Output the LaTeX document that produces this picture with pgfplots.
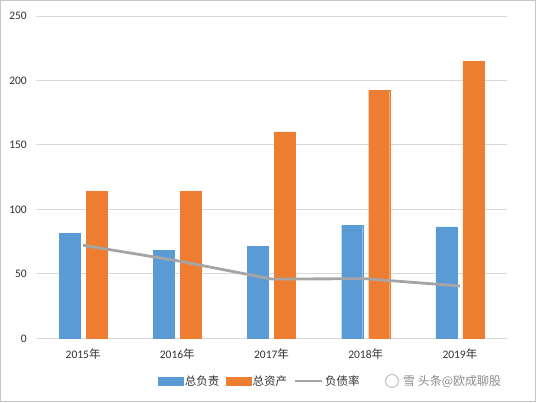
\documentclass[border=0pt]{standalone}
\usepackage{fontspec}
\setmainfont{Carlito}
\newfontfamily\cjk{Noto Sans CJK SC}
\usepackage{pgfplots}
\pgfplotsset{compat=1.18}
\definecolor{cblue}{HTML}{5B9BD5}
\definecolor{corange}{HTML}{ED7D31}
\definecolor{cgray}{HTML}{A5A5A5}
\definecolor{cgrid}{HTML}{D9D9D9}
\definecolor{ctext}{HTML}{303030}
\begin{document}
\begin{tikzpicture}[x=1bp,y=1bp]
\path[use as bounding box] (0,0) rectangle (536,402);
\draw[color=black!22, line width=1.3bp] (0.7,0.7) rectangle (535.3,401.3);
\begin{axis}[
  at={(36bp,64bp)}, anchor=south west,
  scale only axis, width=471bp, height=322bp,
  xmin=-0.5, xmax=4.5, ymin=0, ymax=250,
  ytick={0,50,100,150,200,250},
  xtick={0,1,2,3,4},
  xticklabels={2015{\cjk 年},2016{\cjk 年},2017{\cjk 年},2018{\cjk 年},2019{\cjk 年}},
  /pgf/number format/assume math mode=true,
  font=\fontsize{11.5bp}{14bp}\selectfont,
  ticklabel style={text=ctext},
  major tick length=0pt,
  axis line style={draw=none},
  ymajorgrids, grid style={cgrid, line width=0.9bp},
  yticklabel style={anchor=base east, inner sep=0pt, xshift=-9bp, yshift=-4bp},
  xticklabel style={anchor=base, inner sep=0pt, yshift=-20bp},
  legend columns=3,
  legend style={at={(0.4745,-0.1335)}, anchor=center, draw=none, fill=none,
    font=\fontsize{11.5bp}{14bp}\selectfont\cjk, text=ctext,
    /tikz/every even column/.append style={column sep=5bp},
    nodes={inner sep=1.5bp}},
  clip=false,
]
\addplot[ybar, bar width=21bp, bar shift=-13.5bp, fill=cblue, draw=cblue,
  legend image code/.code={\fill[cblue] (0bp,-4bp) rectangle (25bp,4bp);}]
  coordinates {(0,81.5) (1,68.3) (2,71.4) (3,87.7) (4,86.2)};
\addlegendentry{总负责}
\addplot[ybar, bar width=21bp, bar shift=13.5bp, fill=corange, draw=corange,
  legend image code/.code={\fill[corange] (0bp,-4bp) rectangle (25bp,4bp);}]
  coordinates {(0,114) (1,114) (2,160) (3,192.5) (4,215)};
\addlegendentry{总资产}
\addplot[cgray, line width=2.8bp, no markers,
  legend image code/.code={\draw[cgray, line width=2.8bp] (0bp,0bp) -- (27bp,0bp);}]
  coordinates {(0,72) (1,60) (2,45.8) (3,46) (4,40.4)};
\addlegendentry{负债率}
\end{axis}
\draw[black!25, line width=1bp] (392,21) circle (6.5);
\node[anchor=west, inner sep=0pt, text=black!45, font=\fontsize{12bp}{14bp}\selectfont\cjk] at (403,21) {雪 头条@欧成聊股};
\end{tikzpicture}
\end{document}
